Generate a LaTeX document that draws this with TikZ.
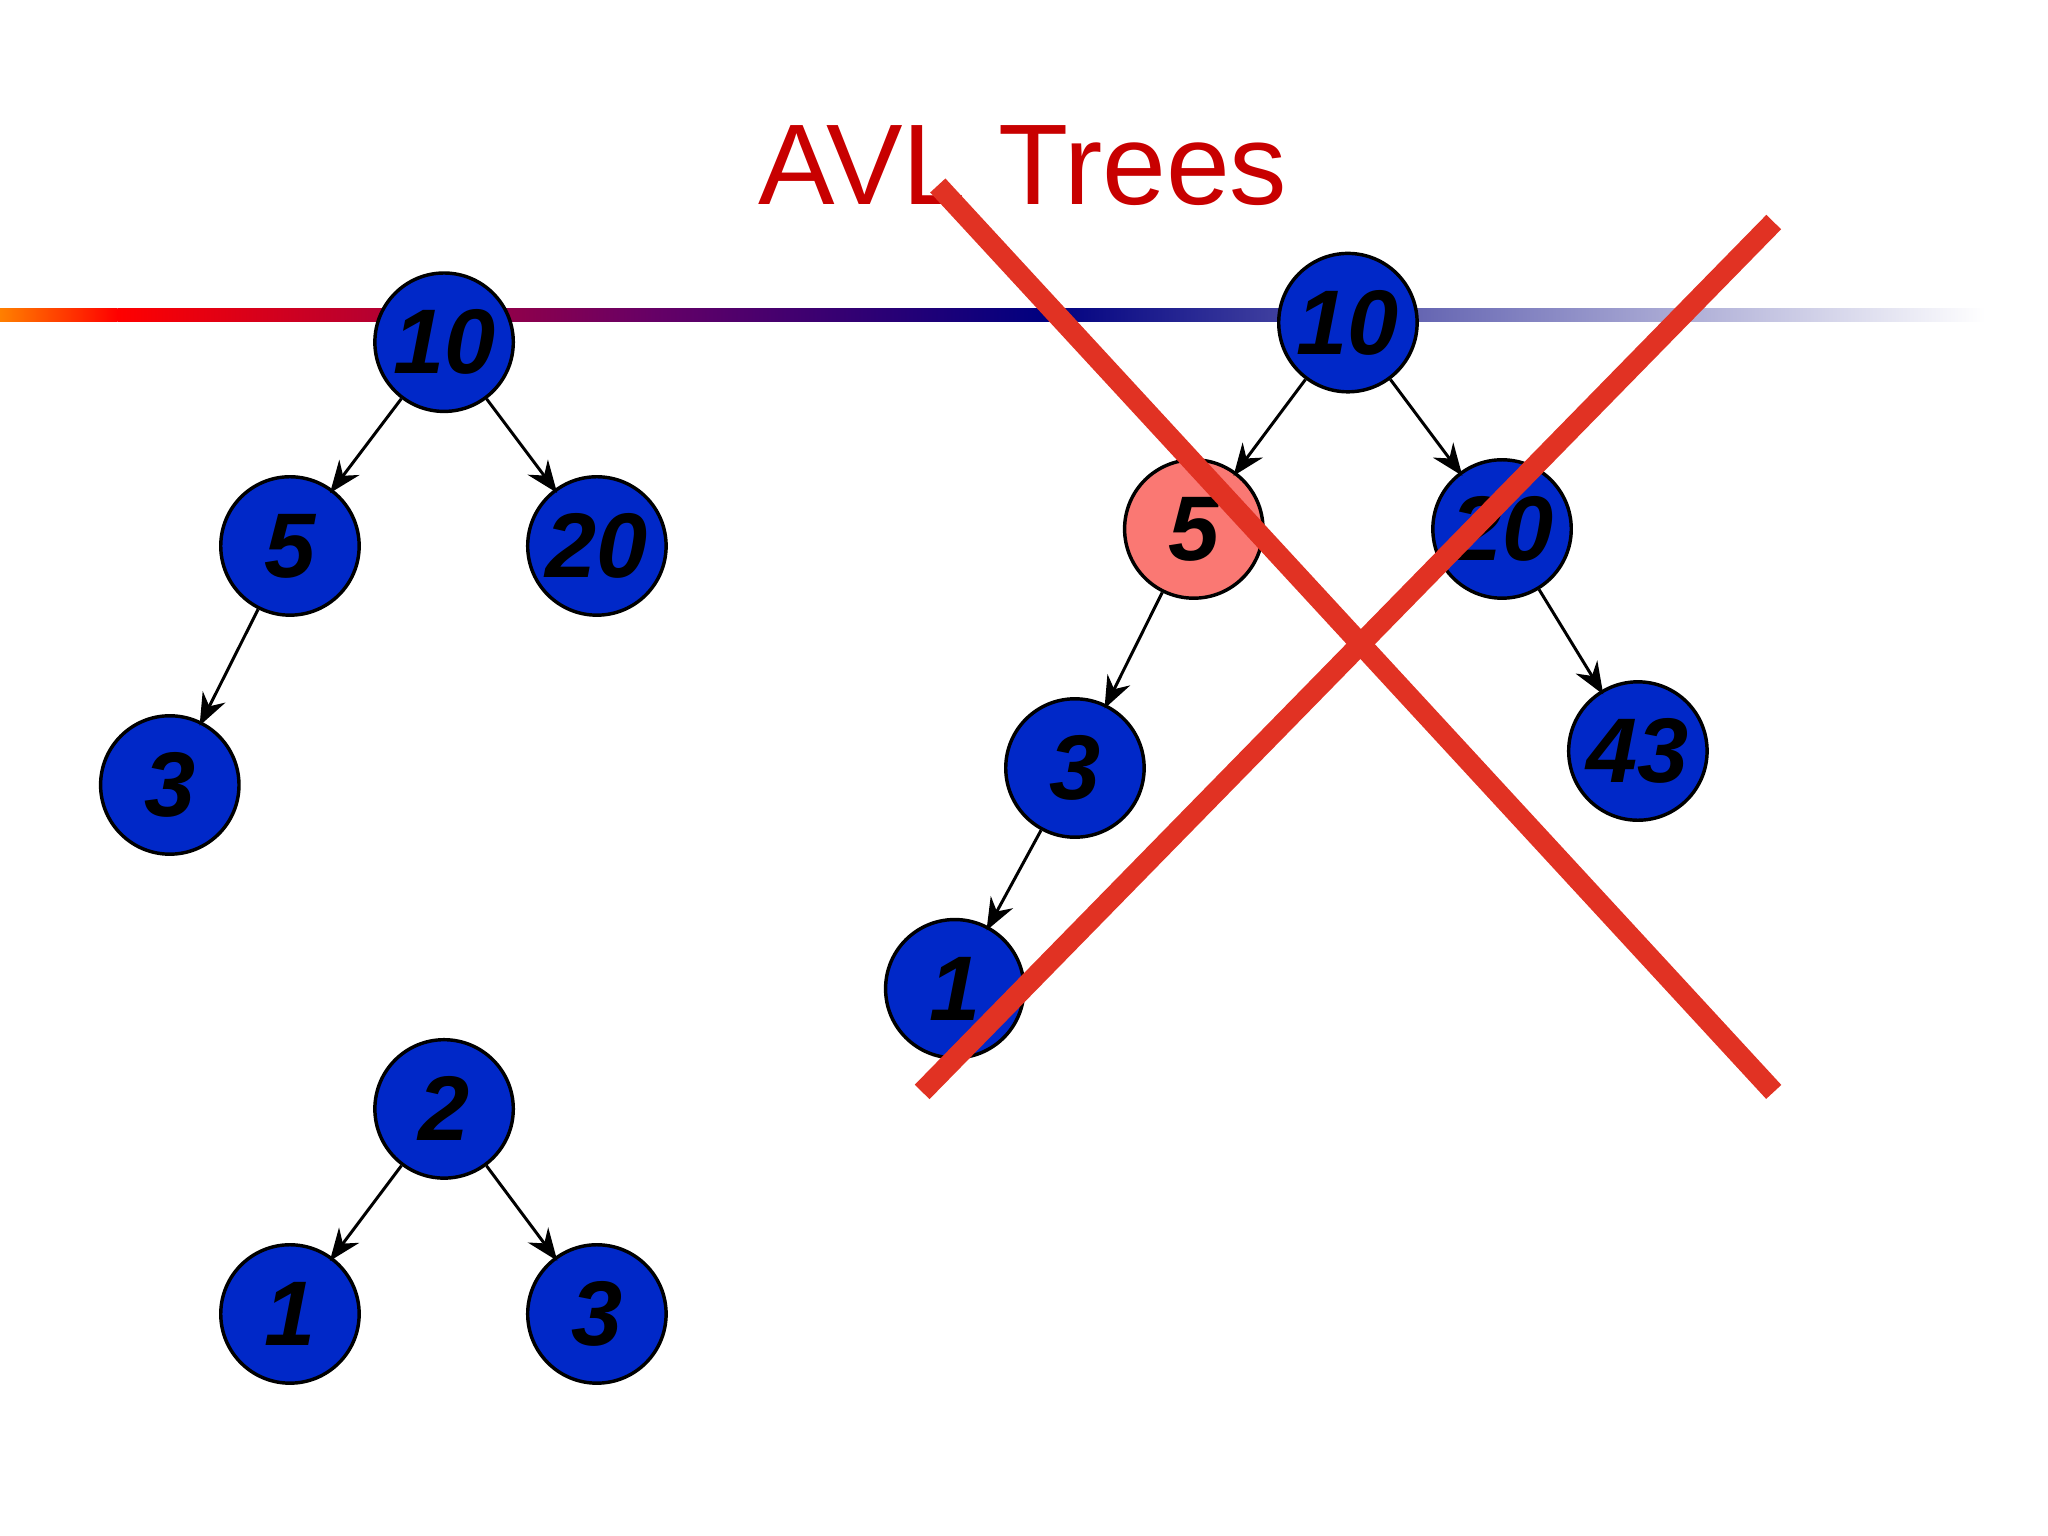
\documentclass[tikz,border=0pt]{standalone}
\usepackage{fontspec}
\setmainfont{Liberation Sans}
\usetikzlibrary{arrows.meta}
\definecolor{nodeblue}{RGB}{0,40,200}
\definecolor{xred}{RGB}{225,50,35}
\definecolor{tred}{RGB}{200,0,0}
\definecolor{pinkn}{RGB}{250,120,115}
\begin{document}
\begin{tikzpicture}[x=0.02cm,y=-0.02cm,
  tn/.style={circle,draw=black,line width=1.5pt,fill=nodeblue,minimum size=2.12cm,inner sep=0pt,
     font=\fontsize{40}{40}\selectfont\bfseries\itshape},
  ed/.style={line width=1.3pt,-{Stealth[length=14pt,width=11pt]},shorten >=-2pt},
  xl/.style={line width=16pt*0.02/0.0352778*0.0352778/0.02*0.75,color=xred}]
\useasboundingbox (0,0) rectangle (1568,1176);
% gradient line
\shade[left color=orange,right color=red] (0,236) rectangle (90,246);
\shade[left color=red,right color=violet!80!black] (90,236) rectangle (500,246);
\shade[left color=violet!80!black,right color=blue!50!black] (500,236) rectangle (800,246);
\shade[left color=blue!50!black,right color=white] (800,236) rectangle (1520,246);
\node[font=\fontsize{50}{60}\selectfont,text=tred] (title) at (783,127) {AVL Trees};
% left tree
\node[tn] (a10) at (340,262) {10};
\node[tn] (a5) at (222,418) {5};
\node[tn] (a20) at (457,418) {20};
\node[tn] (a3) at (130,601) {3};
\draw[ed] (a10) -- (a5); \draw[ed] (a10) -- (a20); \draw[ed] (a5) -- (a3);
% bottom tree
\node[tn] (b2) at (340,849) {2};
\node[tn] (b1) at (222,1006) {1};
\node[tn] (b3) at (457,1006) {3};
\draw[ed] (b2) -- (b1); \draw[ed] (b2) -- (b3);
% right tree
\node[tn] (c10) at (1032,247) {10};
\node[tn,fill=pinkn] (c5) at (914,405) {5};
\node[tn] (c20) at (1150,405) {20};
\node[tn] (c3) at (823,588) {3};
\node[tn] (c43) at (1254,575) {43};
\node[tn] (c1) at (731,757) {1};
\draw[ed] (c10) -- (c5); \draw[ed] (c10) -- (c20); \draw[ed] (c5) -- (c3);
\draw[ed] (c3) -- (c1); \draw[ed] (c20) -- (c43);
% red X
\coordinate (x1) at (718,142); \coordinate (x2) at (1358,836);
\coordinate (x3) at (1358,170); \coordinate (x4) at (706,836);
\draw[line width=9pt,color=xred] (x1) -- (x2);
\draw[line width=9pt,color=xred] (x3) -- (x4);
\end{tikzpicture}
\end{document}
